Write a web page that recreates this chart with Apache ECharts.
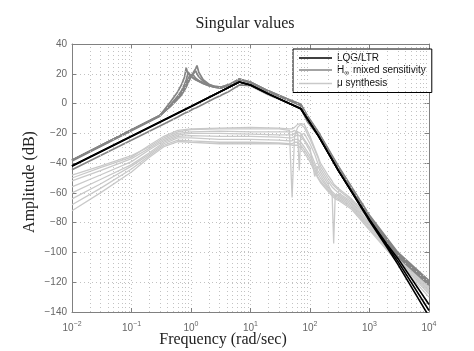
<!DOCTYPE html>
<html>
<head>
<meta charset="utf-8">
<script src="https://cdn.jsdelivr.net/npm/echarts@6/dist/echarts.min.js"></script>
<style>
  html, body { margin: 0; padding: 0; background: #fff; }
  #main { width: 474px; height: 351px; }
</style>
</head>
<body>
<div id="main"></div>
<script>
// frequencies (rad/sec) and singular values (dB)
const lqgFreq = [0.01, 0.1, 1, 6.5, 10, 20, 45, 70, 100, 140, 300, 1000, 2000, 3000, 10000];
const lqgLines = [
  [-42, -22, -2, 14.5, 12.5, 6.5, 0, -3.5, -13, -22, -45, -78, -95, -104, -135],
  [-42, -22, -2, 14.5, 12.5, 6.5, 0, -3.5, -13, -22, -45, -78, -96, -106, -139],
  [-42, -22, -2, 14.5, 12.5, 6.5, 0, -3.5, -13, -22, -45, -79, -97, -108, -143]
];

const hinfFreq = [0.01, 0.3, 0.45, 0.6, 0.7, 0.78, 0.83, 0.9, 1.0, 1.1, 1.2, 1.26, 1.35, 1.6, 2.0, 2.5, 3.2, 4.5, 6.5, 10, 20, 45, 70, 90, 140, 300, 1000, 3000, 10000];
const hinfLines = [
  [-38, -8, 1, 8, 13, 18, 24, 19, 18, 17, 16, 15.5, 15, 13.5, 12, 11, 10.5, 12.5, 16, 14, 8, 2, -1, -9, -20, -43, -76, -101, -120],
  [-38.5, -8.5, -1, 5, 9, 13, 16, 21, 18.5, 17, 16, 15.5, 15, 13.5, 12, 11, 10.5, 12.5, 16.5, 14.5, 8.5, 2.5, -0.5, -8, -19.5, -42, -75, -100, -119],
  [-38, -8, -2, 3, 6, 9, 11, 14, 18, 21, 23.5, 25.5, 21, 16, 13, 11.5, 11, 13, 16.5, 14, 8, 2, -1, -9, -20, -43, -76, -101, -120],
  [-38, -8, -1, 4, 7, 10, 12, 15, 18, 20, 22, 20, 18, 15, 12.5, 11, 10.5, 12.5, 16, 14, 8, 2, -1.5, -10, -21, -44, -77, -102, -121.5],
  [-38, -8, -1.5, 4.5, 8, 12, 14, 17, 19.5, 19, 17, 16.5, 15.5, 14, 12.5, 11.5, 11, 13, 16.5, 14.5, 8.5, 2.5, -0.5, -8.5, -20, -43, -76, -101, -120.5],
  [-44.5, -15, -11.5, -9, -7.5, -6.5, -6, -5.5, -4.5, -3.5, -3, -2.5, -2, -0.5, 1.5, 3.5, 5.5, 8.5, 12.5, 12, 6, 0, -3, -12, -22, -45, -78, -103, -122]
];

const muFreq = [0.01, 0.03, 0.1, 0.2, 0.35, 0.6, 1, 3, 10, 30, 45, 50, 55, 62, 66, 70, 80, 100, 120, 135, 150, 200, 235, 250, 265, 300, 500, 1000, 3000, 10000];
const muLines = [
  [-48, -42, -35, -29, -23, -19, -17.5, -17, -17, -17, -18, -63, -22, -16, -15, -14, -16, -24, -31, -36, -42, -50, -54, -55, -56, -58, -65, -78, -102, -123],
  [-52, -45, -37, -30, -24, -20, -19, -18.5, -19, -19, -19, -19, -18, -20, -45, -21, -20, -27, -34, -40, -44, -52, -56, -57, -58, -60, -66, -80, -103, -124],
  [-56, -48, -39, -31, -25, -21, -20, -20, -20.5, -21, -21, -21, -20, -19, -19, -20, -24, -30, -49, -42, -46, -54, -60, -94, -62, -61, -67, -81, -104, -125],
  [-60, -51, -41, -33, -26, -22, -21.5, -22, -22, -22.5, -23, -23, -22, -21, -21, -22, -25, -32, -40, -45, -48, -56, -59, -60, -61, -62, -68, -82, -104, -126],
  [-64, -54, -42, -34, -27, -23, -23, -24, -24, -24.5, -25, -25, -24, -24, -25, -26, -29, -35, -42, -47, -50, -57, -60, -61, -62, -63, -69, -83, -105, -127],
  [-68, -57, -44, -35, -28, -24.5, -25, -26, -26, -26.5, -27, -27, -26, -26, -27, -28, -31, -37, -44, -49, -52, -58, -61, -62, -63, -64, -70, -84, -106, -128],
  [-72, -60, -46, -36, -29, -25.5, -26, -27, -27, -27, -27.5, -28, -28, -28, -29, -30, -33, -39, -46, -50, -53, -59, -62, -63, -64, -65, -71, -85, -107, -130],
  [-50, -43, -36, -28, -22, -18, -17, -16.5, -16, -16.5, -17, -17, -16, -14, -13, -13.5, -14, -22, -30, -35, -40, -48, -52, -54, -55, -57, -64, -77, -101, -122]
];

const decades = [-2, -1, 0, 1, 2, 3];

// minor log grid lines at 2..9 of each decade
const minorGrid = [];
decades.forEach(function (e) {
  for (let d = 2; d <= 9; d++) minorGrid.push({ xAxis: d * Math.pow(10, e) });
});

function pairs(freq, vals) {
  return freq.map(function (f, i) { return [f, vals[i]]; });
}

const LQG = 'LQG/LTR', HINF = 'H∞ mixed sensitivity', MU = 'μ synthesis';
const series = [];

muLines.forEach(function (v) {
  series.push({ type: 'line', name: MU, data: pairs(muFreq, v), symbol: 'none', z: 3,
    lineStyle: { color: '#c9c9c9', width: 1.3 }, itemStyle: { color: '#c9c9c9' } });
});
hinfLines.forEach(function (v) {
  series.push({ type: 'line', name: HINF, data: pairs(hinfFreq, v), symbol: 'none', z: 4,
    lineStyle: { color: '#858585', width: 1.7 }, itemStyle: { color: '#858585' } });
});
lqgLines.forEach(function (v) {
  series.push({ type: 'line', name: LQG, data: pairs(lqgFreq, v), symbol: 'none', z: 5,
    lineStyle: { color: '#000', width: 1.6 }, itemStyle: { color: '#000' } });
});
// dotted minor grid
series.push({
  type: 'line', data: [], silent: true, z: 1,
  markLine: { silent: true, symbol: 'none', label: { show: false }, animation: false,
    lineStyle: { color: '#c2c2c2', type: [1, 3], width: 1 }, data: minorGrid }
});

const labelFont = 'Liberation Sans, Arial, sans-serif';
const serif = 'Liberation Serif, Times New Roman, serif';
const gridLine = { show: true, lineStyle: { color: '#c2c2c2', type: [1, 3], width: 1 } };
const tick = { inside: true, length: 4, lineStyle: { color: '#808080' } };

const chart = echarts.init(document.getElementById('main'));
chart.setOption({
  animation: false,
  backgroundColor: '#fff',
  grid: { left: 72, right: 45, top: 44, bottom: 39 },
  legend: {
    data: [LQG, HINF, MU],
    orient: 'vertical',
    left: 293, top: 49,
    padding: [4, 6, 4, 6],
    itemGap: 2,
    icon: 'rect',
    itemWidth: 33, itemHeight: 1.5,
    backgroundColor: '#fff',
    borderColor: '#000', borderWidth: 1,
    selectedMode: false,
    textStyle: { fontSize: 10, fontFamily: labelFont, color: '#111',
      rich: { sub: { fontSize: 7, verticalAlign: 'bottom', padding: [6, 1, 0, 0] } } },
    formatter: function (n) { return n === HINF ? 'H{sub|∞} mixed sensitivity' : n; }
  },
  xAxis: [{
    type: 'log', logBase: 10, min: 0.01, max: 10000, splitNumber: 6,
    axisLine: { onZero: false, lineStyle: { color: '#808080' } },
    axisTick: tick,
    splitLine: gridLine,
    axisLabel: {
      color: '#666', fontSize: 10, fontFamily: labelFont, margin: 9,
      formatter: function (v) {
        const e = Math.round(Math.log10(v));
        return '10{sup|' + (e < 0 ? '\u2212' + (-e) : e) + '}';
      },
      rich: { sup: { fontSize: 7, verticalAlign: 'top', padding: [0, 0, 7, 0] } }
    }
  }, {
    type: 'log', logBase: 10, min: 0.01, max: 10000, splitNumber: 6, position: 'top',
    axisLine: { onZero: false, lineStyle: { color: '#808080' } },
    axisTick: tick,
    axisLabel: { show: false }, splitLine: { show: false }
  }],
  yAxis: [{
    type: 'value', min: -140, max: 40, interval: 20,
    axisLine: { show: true, onZero: false, lineStyle: { color: '#808080' } },
    axisTick: Object.assign({ show: true }, tick),
    splitLine: gridLine,
    axisLabel: { color: '#666', fontSize: 10, fontFamily: labelFont, margin: 5,
      formatter: function (v) { return String(v).replace('-', '\u2212'); } }
  }, {
    type: 'value', min: -140, max: 40, interval: 20, position: 'right',
    axisLine: { show: true, onZero: false, lineStyle: { color: '#808080' } },
    axisTick: Object.assign({ show: true }, tick),
    axisLabel: { show: false }, splitLine: { show: false }
  }],
  graphic: [
    { type: 'text', x: 245, y: 24, style: { text: 'Singular values', font: '16px ' + serif,
      fill: '#222', align: 'center', verticalAlign: 'middle', textAlign: 'center', textVerticalAlign: 'middle' } },
    { type: 'text', x: 223, y: 340, style: { text: 'Frequency (rad/sec)', font: '16px ' + serif,
      fill: '#222', align: 'center', verticalAlign: 'middle', textAlign: 'center', textVerticalAlign: 'middle' } },
    { type: 'text', x: 30, y: 182, rotation: Math.PI / 2, style: { text: 'Amplitude (dB)', font: '16px ' + serif,
      fill: '#222', align: 'center', verticalAlign: 'middle', textAlign: 'center', textVerticalAlign: 'middle' } }
  ],
  series: series
});
</script>
</body>
</html>
